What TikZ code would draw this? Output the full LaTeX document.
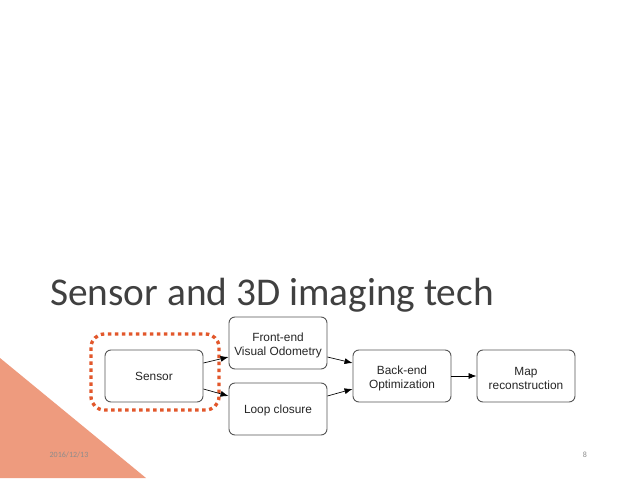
\documentclass[tikz,border=0pt]{standalone}
\usepackage{fontspec}
\setmainfont{Liberation Sans}
\newfontfamily\slidefont{Carlito}
\usetikzlibrary{arrows.meta}
\definecolor{tri}{HTML}{EE9B7E}
\definecolor{hl}{HTML}{E2572B}
\definecolor{boxline}{HTML}{555555}
\newcommand{\padtop}[1]{\rule{0pt}{#1}}
\tikzset{
  x=0.75pt,y=-0.75pt,
  blockbox/.style={draw=boxline,line width=0.7pt,rounded corners=4.5pt,fill=white,minimum width=73.5pt,minimum height=39pt,inner sep=0pt,align=center,font=\fontsize{8.9}{10.5}\selectfont,text=black!85},
  link/.style={draw=black,line width=0.5pt,-{Latex[length=6pt,width=4.5pt]}},
  foot/.style={font=\slidefont\fontsize{6}{7.5}\selectfont,text=black!45,inner sep=0pt}
}
\begin{document}
\begin{tikzpicture}
\useasboundingbox (0,0) rectangle (638,478);
\fill[white] (0,0) rectangle (638,478);
\fill[tri] (0,358) -- (146,478) -- (0,478) -- cycle;
\node[anchor=base west,inner sep=0pt,font=\slidefont\fontsize{29.5}{34}\selectfont,text=black!75] (title) at (50,305) {Sensor and 3D imaging tech};
\node[blockbox] (sensor) at (154,376) {\padtop{7.5pt}Sensor};
\node[blockbox] (front) at (278,343) {\padtop{9.5pt}Front-end\\Visual Odometry};
\node[blockbox] (loop) at (278,409) {\padtop{8.5pt}Loop closure};
\node[blockbox] (back) at (402,376) {\padtop{9.5pt}Back-end\\Optimization};
\node[blockbox] (map) at (526,376) {\padtop{9.5pt}Map\\reconstruction};
\draw[hl,line width=2.5pt,dash pattern=on 2.6pt off 2.65pt,rounded corners=10pt] (91,334) rectangle (219,410);
\path[link] ([yshift=9.75pt]sensor.east) -- ([yshift=-10.5pt]front.west);
\path[link] ([yshift=-9.75pt]sensor.east) -- ([yshift=9.75pt]loop.west);
\path[link] ([yshift=-10.5pt]front.east) -- ([yshift=9.75pt]back.west);
\path[link] ([yshift=9.75pt]loop.east) -- ([yshift=-9.75pt]back.west);
\path[link] (back) -- (map);
\node[foot,anchor=center] (date) at (69,455) {2016/12/13};
\node[foot,anchor=center] (page) at (585,455) {8};
\end{tikzpicture}
\end{document}
